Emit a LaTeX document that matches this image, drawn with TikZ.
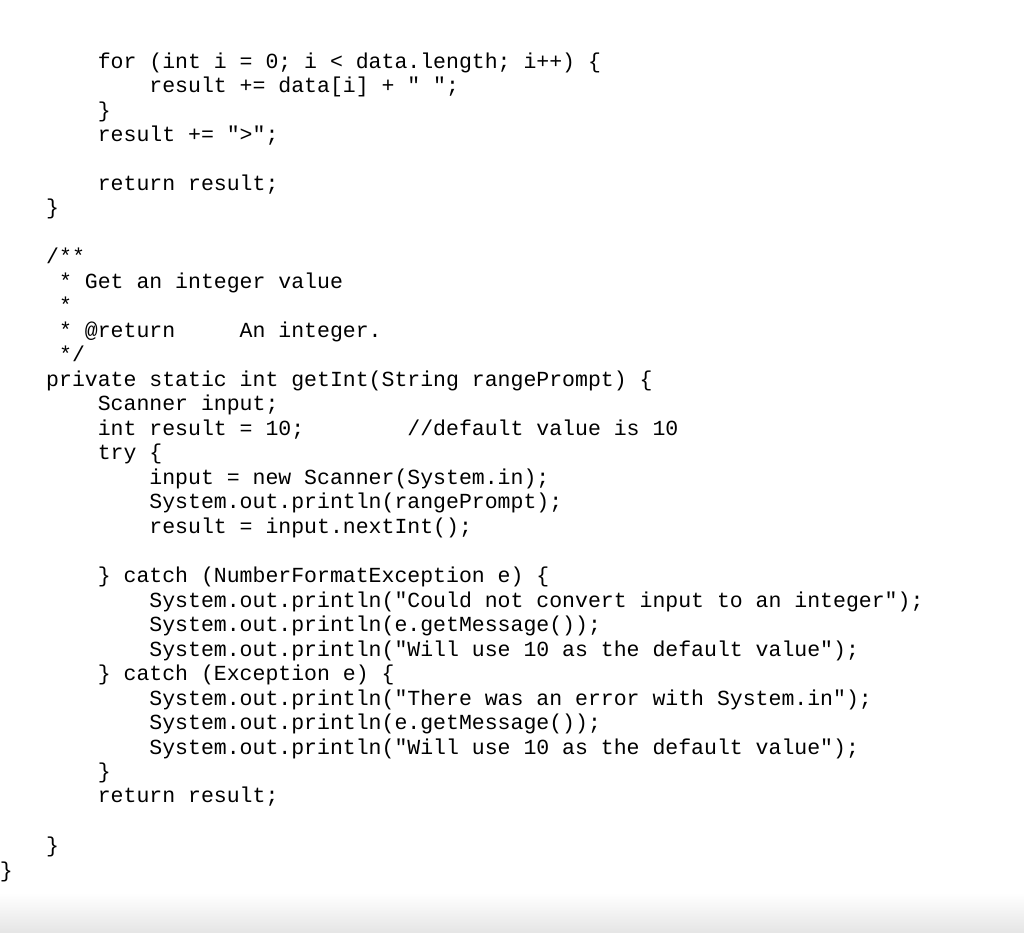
\documentclass[tikz,border=0pt]{standalone}
\usepackage{fontspec}
\setmonofont{Liberation Mono}
\begin{document}
\begin{tikzpicture}[x=1pt,y=-1pt,code/.style={anchor=base west,inner sep=0pt,font=\ttfamily\fontsize{21.5}{24}\selectfont,text=black}]
\useasboundingbox (0,0) rectangle (1024,932);
\fill[white] (0,0) rectangle (1024,932);
\shade[top color=white,bottom color=black!10] (0,893) rectangle (1024,932);
\def\cw{12.9}
\foreach \n/\c/\y/\t in {
a/4/61/{for (int i = 0; i < data.length; i++) \{},
b/8/85/{result += data[i] + " ";},
c/4/110/{\}},
d/4/134/{result += ">";},
e/4/183/{return result;},
f/0/207/{\}},
g/0/256/{/**},
h/1/281/{* Get an integer value},
i/1/305/{*},
j/1/330/{* @return},
j2/15/330/{An integer.},
k/1/354/{*/},
l/0/379/{private static int getInt(String rangePrompt) \{},
m/4/403/{Scanner input;},
o/4/428/{int result = 10;},
o2/28/428/{//default value is 10},
p/4/452/{try \{},
q/8/477/{input = new Scanner(System.in);},
r/8/501/{System.out.println(rangePrompt);},
s/8/526/{result = input.nextInt();},
t/4/575/{\} catch (NumberFormatException e) \{},
u/8/600/{System.out.println("Could not convert input to an integer");},
v/8/624/{System.out.println(e.getMessage());},
w/8/649/{System.out.println("Will use 10 as the default value");},
x/4/673/{\} catch (Exception e) \{},
y/8/698/{System.out.println("There was an error with System.in");},
z/8/722/{System.out.println(e.getMessage());},
aa/8/747/{System.out.println("Will use 10 as the default value");},
ab/4/771/{\}},
ac/4/795/{return result;},
ad/0/845/{\}},
ae/-3.6/870/{\}}}
{\node[code] (\n) at ({46+\c*\cw},{\y+7.5}) {\t};}
\end{tikzpicture}
\end{document}
